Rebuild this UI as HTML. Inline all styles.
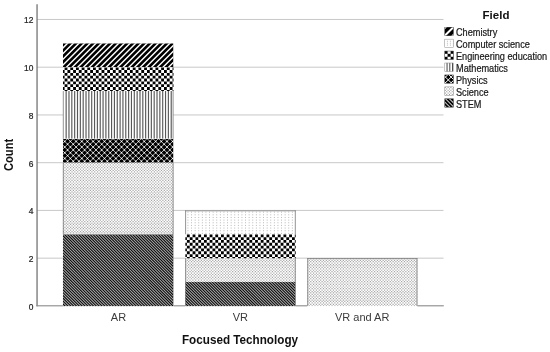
<!DOCTYPE html>
<html><head><meta charset="utf-8"><title>Chart</title>
<style>
html,body{margin:0;padding:0;background:#fff;}
svg{display:block;font-family:"Liberation Sans",Arial,sans-serif;}
</style></head><body>
<svg width="550" height="352" viewBox="0 0 550 352">
<defs><clipPath id="c1"><rect x="62.9" y="234.29" width="110.6" height="71.91"/></clipPath><clipPath id="c2"><rect x="62.9" y="162.68" width="110.6" height="71.61"/></clipPath><clipPath id="c3"><rect x="62.9" y="138.81" width="110.6" height="23.87"/></clipPath><clipPath id="c4"><rect x="62.9" y="91.07" width="110.6" height="47.74"/></clipPath><clipPath id="c5"><rect x="62.9" y="67.2" width="110.6" height="23.87"/></clipPath><clipPath id="c6"><rect x="62.9" y="43.33" width="110.6" height="23.87"/></clipPath><clipPath id="c7"><rect x="185.2" y="282.03" width="110.5" height="24.17"/></clipPath><clipPath id="c8"><rect x="185.2" y="258.16" width="110.5" height="23.87"/></clipPath><clipPath id="c9"><rect x="185.2" y="234.29" width="110.5" height="23.87"/></clipPath><clipPath id="c10"><rect x="185.2" y="210.42" width="110.5" height="23.87"/></clipPath><clipPath id="c11"><rect x="307.3" y="258.16" width="110.1" height="48.04"/></clipPath><clipPath id="c12"><rect x="444.5" y="27" width="9.2" height="8.9"/></clipPath><clipPath id="c13"><rect x="444.5" y="38.92" width="9.2" height="8.9"/></clipPath><clipPath id="c14"><rect x="444.5" y="50.84" width="9.2" height="8.9"/></clipPath><clipPath id="c15"><rect x="444.5" y="62.76" width="9.2" height="8.9"/></clipPath><clipPath id="c16"><rect x="444.5" y="74.68" width="9.2" height="8.9"/></clipPath><clipPath id="c17"><rect x="444.5" y="86.6" width="9.2" height="8.9"/></clipPath><clipPath id="c18"><rect x="444.5" y="98.52" width="9.2" height="8.9"/></clipPath></defs>
<rect width="550" height="352" fill="#fff"/>
<line x1="37" y1="258.16" x2="443.5" y2="258.16" stroke="#c2c2c2" stroke-width="0.9"/>
<line x1="37" y1="210.42" x2="443.5" y2="210.42" stroke="#c2c2c2" stroke-width="0.9"/>
<line x1="37" y1="162.68" x2="443.5" y2="162.68" stroke="#c2c2c2" stroke-width="0.9"/>
<line x1="37" y1="114.94" x2="443.5" y2="114.94" stroke="#c2c2c2" stroke-width="0.9"/>
<line x1="37" y1="67.20" x2="443.5" y2="67.20" stroke="#c2c2c2" stroke-width="0.9"/>
<line x1="37" y1="19.46" x2="443.5" y2="19.46" stroke="#c2c2c2" stroke-width="0.9"/>
<g clip-path="url(#c1)"><rect x="62.9" y="234.29" width="110.6" height="71.91" fill="#000"/><path d="M-14.78 233.29L59.13 307.2M-11.94 233.29L61.97 307.2M-9.1 233.29L64.81 307.2M-6.26 233.29L67.65 307.2M-3.42 233.29L70.49 307.2M-0.58 233.29L73.33 307.2M2.26 233.29L76.17 307.2M5.1 233.29L79.01 307.2M7.94 233.29L81.85 307.2M10.78 233.29L84.69 307.2M13.62 233.29L87.53 307.2M16.46 233.29L90.37 307.2M19.3 233.29L93.21 307.2M22.14 233.29L96.05 307.2M24.98 233.29L98.89 307.2M27.82 233.29L101.73 307.2M30.66 233.29L104.57 307.2M33.5 233.29L107.41 307.2M36.34 233.29L110.25 307.2M39.18 233.29L113.09 307.2M42.02 233.29L115.93 307.2M44.86 233.29L118.77 307.2M47.7 233.29L121.61 307.2M50.54 233.29L124.45 307.2M53.38 233.29L127.29 307.2M56.22 233.29L130.13 307.2M59.06 233.29L132.97 307.2M61.9 233.29L135.81 307.2M64.74 233.29L138.65 307.2M67.58 233.29L141.49 307.2M70.42 233.29L144.33 307.2M73.26 233.29L147.17 307.2M76.1 233.29L150.01 307.2M78.94 233.29L152.85 307.2M81.78 233.29L155.69 307.2M84.62 233.29L158.53 307.2M87.46 233.29L161.37 307.2M90.3 233.29L164.21 307.2M93.14 233.29L167.05 307.2M95.98 233.29L169.89 307.2M98.82 233.29L172.73 307.2M101.66 233.29L175.57 307.2M104.5 233.29L178.41 307.2M107.34 233.29L181.25 307.2M110.18 233.29L184.09 307.2M113.02 233.29L186.93 307.2M115.86 233.29L189.77 307.2M118.7 233.29L192.61 307.2M121.54 233.29L195.45 307.2M124.38 233.29L198.29 307.2M127.22 233.29L201.13 307.2M130.06 233.29L203.97 307.2M132.9 233.29L206.81 307.2M135.74 233.29L209.65 307.2M138.58 233.29L212.49 307.2M141.42 233.29L215.33 307.2M144.26 233.29L218.17 307.2M147.1 233.29L221.01 307.2M149.94 233.29L223.85 307.2M152.78 233.29L226.69 307.2M155.62 233.29L229.53 307.2M158.46 233.29L232.37 307.2M161.3 233.29L235.21 307.2M164.14 233.29L238.05 307.2M166.98 233.29L240.89 307.2M169.82 233.29L243.73 307.2M172.66 233.29L246.57 307.2" stroke="#a8a8a8" stroke-width="1.03" fill="none"/></g>
<g clip-path="url(#c2)"><rect x="62.9" y="162.68" width="110.6" height="71.61" fill="#fff"/><path d="M62.9 163.39H179.18M62.9 166.23H179.18M62.9 169.07H179.18M62.9 171.91H179.18M62.9 174.75H179.18M62.9 177.59H179.18M62.9 180.43H179.18M62.9 183.27H179.18M62.9 186.11H179.18M62.9 188.95H179.18M62.9 191.79H179.18M62.9 194.63H179.18M62.9 197.47H179.18M62.9 200.31H179.18M62.9 203.15H179.18M62.9 205.99H179.18M62.9 208.83H179.18M62.9 211.67H179.18M62.9 214.51H179.18M62.9 217.35H179.18M62.9 220.19H179.18M62.9 223.03H179.18M62.9 225.87H179.18M62.9 228.71H179.18M62.9 231.55H179.18M62.9 234.39H179.18" stroke="#a6a6a6" stroke-width="1.2" stroke-dasharray="1.2 1.64" fill="none"/><path d="M62.9 164.81H179.18M62.9 167.65H179.18M62.9 170.49H179.18M62.9 173.33H179.18M62.9 176.17H179.18M62.9 179.01H179.18M62.9 181.85H179.18M62.9 184.69H179.18M62.9 187.53H179.18M62.9 190.37H179.18M62.9 193.21H179.18M62.9 196.05H179.18M62.9 198.89H179.18M62.9 201.73H179.18M62.9 204.57H179.18M62.9 207.41H179.18M62.9 210.25H179.18M62.9 213.09H179.18M62.9 215.93H179.18M62.9 218.77H179.18M62.9 221.61H179.18M62.9 224.45H179.18M62.9 227.29H179.18M62.9 230.13H179.18M62.9 232.97H179.18" stroke="#a6a6a6" stroke-width="1.2" stroke-dasharray="1.2 1.64" stroke-dashoffset="1.42" fill="none"/></g>
<g clip-path="url(#c3)"><rect x="62.9" y="138.81" width="110.6" height="23.87" fill="#000"/><path d="M31.09 163.68L56.96 137.81M36.77 163.68L62.64 137.81M42.45 163.68L68.32 137.81M48.13 163.68L74 137.81M53.81 163.68L79.68 137.81M59.49 163.68L85.36 137.81M65.17 163.68L91.04 137.81M70.85 163.68L96.72 137.81M76.53 163.68L102.4 137.81M82.21 163.68L108.08 137.81M87.89 163.68L113.76 137.81M93.57 163.68L119.44 137.81M99.25 163.68L125.12 137.81M104.93 163.68L130.8 137.81M110.61 163.68L136.48 137.81M116.29 163.68L142.16 137.81M121.97 163.68L147.84 137.81M127.65 163.68L153.52 137.81M133.33 163.68L159.2 137.81M139.01 163.68L164.88 137.81M144.69 163.68L170.56 137.81M150.37 163.68L176.24 137.81M156.05 163.68L181.92 137.81M161.73 163.68L187.6 137.81M167.41 163.68L193.28 137.81M173.09 163.68L198.96 137.81M27.06 137.81L52.93 163.68M32.74 137.81L58.61 163.68M38.42 137.81L64.29 163.68M44.1 137.81L69.97 163.68M49.78 137.81L75.65 163.68M55.46 137.81L81.33 163.68M61.14 137.81L87.01 163.68M66.82 137.81L92.69 163.68M72.5 137.81L98.37 163.68M78.18 137.81L104.05 163.68M83.86 137.81L109.73 163.68M89.54 137.81L115.41 163.68M95.22 137.81L121.09 163.68M100.9 137.81L126.77 163.68M106.58 137.81L132.45 163.68M112.26 137.81L138.13 163.68M117.94 137.81L143.81 163.68M123.62 137.81L149.49 163.68M129.3 137.81L155.17 163.68M134.98 137.81L160.85 163.68M140.66 137.81L166.53 163.68M146.34 137.81L172.21 163.68M152.02 137.81L177.89 163.68M157.7 137.81L183.57 163.68M163.38 137.81L189.25 163.68M169.06 137.81L194.93 163.68M174.74 137.81L200.61 163.68" stroke="#fff" stroke-width="0.7" fill="none"/><path d="M64.73 141.4h0M67.57 138.56h0M64.73 147.08h0M67.57 144.24h0M70.41 141.4h0M73.25 138.56h0M64.73 152.76h0M67.57 149.92h0M70.41 147.08h0M73.25 144.24h0M76.09 141.4h0M78.93 138.56h0M64.73 158.44h0M67.57 155.6h0M70.41 152.76h0M73.25 149.92h0M76.09 147.08h0M78.93 144.24h0M81.77 141.4h0M84.61 138.56h0M67.57 161.28h0M70.41 158.44h0M73.25 155.6h0M76.09 152.76h0M78.93 149.92h0M81.77 147.08h0M84.61 144.24h0M87.45 141.4h0M90.29 138.56h0M73.25 161.28h0M76.09 158.44h0M78.93 155.6h0M81.77 152.76h0M84.61 149.92h0M87.45 147.08h0M90.29 144.24h0M93.13 141.4h0M95.97 138.56h0M78.93 161.28h0M81.77 158.44h0M84.61 155.6h0M87.45 152.76h0M90.29 149.92h0M93.13 147.08h0M95.97 144.24h0M98.81 141.4h0M101.65 138.56h0M84.61 161.28h0M87.45 158.44h0M90.29 155.6h0M93.13 152.76h0M95.97 149.92h0M98.81 147.08h0M101.65 144.24h0M104.49 141.4h0M107.33 138.56h0M90.29 161.28h0M93.13 158.44h0M95.97 155.6h0M98.81 152.76h0M101.65 149.92h0M104.49 147.08h0M107.33 144.24h0M110.17 141.4h0M113.01 138.56h0M95.97 161.28h0M98.81 158.44h0M101.65 155.6h0M104.49 152.76h0M107.33 149.92h0M110.17 147.08h0M113.01 144.24h0M115.85 141.4h0M118.69 138.56h0M101.65 161.28h0M104.49 158.44h0M107.33 155.6h0M110.17 152.76h0M113.01 149.92h0M115.85 147.08h0M118.69 144.24h0M121.53 141.4h0M124.37 138.56h0M107.33 161.28h0M110.17 158.44h0M113.01 155.6h0M115.85 152.76h0M118.69 149.92h0M121.53 147.08h0M124.37 144.24h0M127.21 141.4h0M130.05 138.56h0M113.01 161.28h0M115.85 158.44h0M118.69 155.6h0M121.53 152.76h0M124.37 149.92h0M127.21 147.08h0M130.05 144.24h0M132.89 141.4h0M135.73 138.56h0M118.69 161.28h0M121.53 158.44h0M124.37 155.6h0M127.21 152.76h0M130.05 149.92h0M132.89 147.08h0M135.73 144.24h0M138.57 141.4h0M141.41 138.56h0M124.37 161.28h0M127.21 158.44h0M130.05 155.6h0M132.89 152.76h0M135.73 149.92h0M138.57 147.08h0M141.41 144.24h0M144.25 141.4h0M147.09 138.56h0M130.05 161.28h0M132.89 158.44h0M135.73 155.6h0M138.57 152.76h0M141.41 149.92h0M144.25 147.08h0M147.09 144.24h0M149.93 141.4h0M152.77 138.56h0M135.73 161.28h0M138.57 158.44h0M141.41 155.6h0M144.25 152.76h0M147.09 149.92h0M149.93 147.08h0M152.77 144.24h0M155.61 141.4h0M158.45 138.56h0M141.41 161.28h0M144.25 158.44h0M147.09 155.6h0M149.93 152.76h0M152.77 149.92h0M155.61 147.08h0M158.45 144.24h0M161.29 141.4h0M164.13 138.56h0M147.09 161.28h0M149.93 158.44h0M152.77 155.6h0M155.61 152.76h0M158.45 149.92h0M161.29 147.08h0M164.13 144.24h0M166.97 141.4h0M169.81 138.56h0M152.77 161.28h0M155.61 158.44h0M158.45 155.6h0M161.29 152.76h0M164.13 149.92h0M166.97 147.08h0M169.81 144.24h0M172.65 141.4h0M158.45 161.28h0M161.29 158.44h0M164.13 155.6h0M166.97 152.76h0M169.81 149.92h0M172.65 147.08h0M164.13 161.28h0M166.97 158.44h0M169.81 155.6h0M172.65 152.76h0M169.81 161.28h0M172.65 158.44h0" stroke="#fff" stroke-width="1.45" stroke-linecap="round" fill="none"/></g>
<g clip-path="url(#c4)"><rect x="62.9" y="91.07" width="110.6" height="47.74" fill="#fff"/><path d="M66.14 91.07V138.81M68.98 91.07V138.81M71.82 91.07V138.81M74.66 91.07V138.81M77.5 91.07V138.81M80.34 91.07V138.81M83.18 91.07V138.81M86.02 91.07V138.81M88.86 91.07V138.81M91.7 91.07V138.81M94.54 91.07V138.81M97.38 91.07V138.81M100.22 91.07V138.81M103.06 91.07V138.81M105.9 91.07V138.81M108.74 91.07V138.81M111.58 91.07V138.81M114.42 91.07V138.81M117.26 91.07V138.81M120.1 91.07V138.81M122.94 91.07V138.81M125.78 91.07V138.81M128.62 91.07V138.81M131.46 91.07V138.81M134.3 91.07V138.81M137.14 91.07V138.81M139.98 91.07V138.81M142.82 91.07V138.81M145.66 91.07V138.81M148.5 91.07V138.81M151.34 91.07V138.81M154.18 91.07V138.81M157.02 91.07V138.81M159.86 91.07V138.81M162.7 91.07V138.81M165.54 91.07V138.81M168.38 91.07V138.81M171.22 91.07V138.81" stroke="#585858" stroke-width="1.15" fill="none"/></g>
<g clip-path="url(#c5)"><rect x="62.9" y="67.2" width="110.6" height="23.87" fill="#fff"/><path d="M62.9 68.62H179.18M62.9 74.3H179.18M62.9 79.98H179.18M62.9 85.66H179.18M62.9 91.34H179.18" stroke="#000" stroke-width="2.84" stroke-dasharray="2.84 2.84" stroke-dashoffset="3.98" fill="none"/><path d="M62.9 71.46H179.18M62.9 77.14H179.18M62.9 82.82H179.18M62.9 88.5H179.18" stroke="#000" stroke-width="2.84" stroke-dasharray="2.84 2.84" stroke-dashoffset="1.14" fill="none"/></g>
<g clip-path="url(#c6)"><rect x="62.9" y="43.33" width="110.6" height="23.87" fill="#000"/><path d="M31.32 68.2L57.19 42.33M37 68.2L62.87 42.33M42.68 68.2L68.55 42.33M48.36 68.2L74.23 42.33M54.04 68.2L79.91 42.33M59.72 68.2L85.59 42.33M65.4 68.2L91.27 42.33M71.08 68.2L96.95 42.33M76.76 68.2L102.63 42.33M82.44 68.2L108.31 42.33M88.12 68.2L113.99 42.33M93.8 68.2L119.67 42.33M99.48 68.2L125.35 42.33M105.16 68.2L131.03 42.33M110.84 68.2L136.71 42.33M116.52 68.2L142.39 42.33M122.2 68.2L148.07 42.33M127.88 68.2L153.75 42.33M133.56 68.2L159.43 42.33M139.24 68.2L165.11 42.33M144.92 68.2L170.79 42.33M150.6 68.2L176.47 42.33M156.28 68.2L182.15 42.33M161.96 68.2L187.83 42.33M167.64 68.2L193.51 42.33M173.32 68.2L199.19 42.33" stroke="#fff" stroke-width="1.45" fill="none"/></g>
<path d="M63.30 162.68V234.29M173.10 162.68V234.29M63.30 91.07V138.81M173.10 91.07V138.81" fill="none" stroke="#777" stroke-width="0.8"/>
<g clip-path="url(#c7)"><rect x="185.2" y="282.03" width="110.5" height="24.17" fill="#000"/><path d="M155.8 281.03L181.97 307.2M158.64 281.03L184.81 307.2M161.48 281.03L187.65 307.2M164.32 281.03L190.49 307.2M167.16 281.03L193.33 307.2M170 281.03L196.17 307.2M172.84 281.03L199.01 307.2M175.68 281.03L201.85 307.2M178.52 281.03L204.69 307.2M181.36 281.03L207.53 307.2M184.2 281.03L210.37 307.2M187.04 281.03L213.21 307.2M189.88 281.03L216.05 307.2M192.72 281.03L218.89 307.2M195.56 281.03L221.73 307.2M198.4 281.03L224.57 307.2M201.24 281.03L227.41 307.2M204.08 281.03L230.25 307.2M206.92 281.03L233.09 307.2M209.76 281.03L235.93 307.2M212.6 281.03L238.77 307.2M215.44 281.03L241.61 307.2M218.28 281.03L244.45 307.2M221.12 281.03L247.29 307.2M223.96 281.03L250.13 307.2M226.8 281.03L252.97 307.2M229.64 281.03L255.81 307.2M232.48 281.03L258.65 307.2M235.32 281.03L261.49 307.2M238.16 281.03L264.33 307.2M241 281.03L267.17 307.2M243.84 281.03L270.01 307.2M246.68 281.03L272.85 307.2M249.52 281.03L275.69 307.2M252.36 281.03L278.53 307.2M255.2 281.03L281.37 307.2M258.04 281.03L284.21 307.2M260.88 281.03L287.05 307.2M263.72 281.03L289.89 307.2M266.56 281.03L292.73 307.2M269.4 281.03L295.57 307.2M272.24 281.03L298.41 307.2M275.08 281.03L301.25 307.2M277.92 281.03L304.09 307.2M280.76 281.03L306.93 307.2M283.6 281.03L309.77 307.2M286.44 281.03L312.61 307.2M289.28 281.03L315.45 307.2M292.12 281.03L318.29 307.2M294.96 281.03L321.13 307.2" stroke="#a8a8a8" stroke-width="1.03" fill="none"/></g>
<g clip-path="url(#c8)"><rect x="185.2" y="258.16" width="110.5" height="23.87" fill="#fff"/><path d="M185.2 258.87H301.38M185.2 261.71H301.38M185.2 264.55H301.38M185.2 267.39H301.38M185.2 270.23H301.38M185.2 273.07H301.38M185.2 275.91H301.38M185.2 278.75H301.38M185.2 281.59H301.38" stroke="#a6a6a6" stroke-width="1.2" stroke-dasharray="1.2 1.64" fill="none"/><path d="M185.2 260.29H301.38M185.2 263.13H301.38M185.2 265.97H301.38M185.2 268.81H301.38M185.2 271.65H301.38M185.2 274.49H301.38M185.2 277.33H301.38M185.2 280.17H301.38" stroke="#a6a6a6" stroke-width="1.2" stroke-dasharray="1.2 1.64" stroke-dashoffset="1.42" fill="none"/></g>
<g clip-path="url(#c9)"><rect x="185.2" y="234.29" width="110.5" height="23.87" fill="#fff"/><path d="M185.2 235.71H301.38M185.2 241.39H301.38M185.2 247.07H301.38M185.2 252.75H301.38M185.2 258.43H301.38" stroke="#000" stroke-width="2.84" stroke-dasharray="2.84 2.84" stroke-dashoffset="3.98" fill="none"/><path d="M185.2 238.55H301.38M185.2 244.23H301.38M185.2 249.91H301.38M185.2 255.59H301.38" stroke="#000" stroke-width="2.84" stroke-dasharray="2.84 2.84" stroke-dashoffset="1.14" fill="none"/></g>
<g clip-path="url(#c10)"><rect x="185.2" y="210.42" width="110.5" height="23.87" fill="#fff"/><path d="M185.2 212.17H295.7M185.2 214.82H295.7M185.2 217.47H295.7M185.2 220.12H295.7M185.2 222.77H295.7M185.2 225.42H295.7M185.2 228.07H295.7M185.2 230.72H295.7M185.2 233.37H295.7" stroke="#aaa" stroke-width="0.9" stroke-dasharray="0.9 2.7" stroke-dashoffset="-2.3" fill="none"/></g>
<path d="M185.60 258.16V282.03M295.30 258.16V282.03M185.60 210.42V234.29M295.30 210.42V234.29M185.20 210.82H295.70" fill="none" stroke="#777" stroke-width="0.8"/>
<g clip-path="url(#c11)"><rect x="307.3" y="258.16" width="110.1" height="48.04" fill="#fff"/><path d="M307.3 258.87H423.08M307.3 261.71H423.08M307.3 264.55H423.08M307.3 267.39H423.08M307.3 270.23H423.08M307.3 273.07H423.08M307.3 275.91H423.08M307.3 278.75H423.08M307.3 281.59H423.08M307.3 284.43H423.08M307.3 287.27H423.08M307.3 290.11H423.08M307.3 292.95H423.08M307.3 295.79H423.08M307.3 298.63H423.08M307.3 301.47H423.08M307.3 304.31H423.08" stroke="#a6a6a6" stroke-width="1.2" stroke-dasharray="1.2 1.64" fill="none"/><path d="M307.3 260.29H423.08M307.3 263.13H423.08M307.3 265.97H423.08M307.3 268.81H423.08M307.3 271.65H423.08M307.3 274.49H423.08M307.3 277.33H423.08M307.3 280.17H423.08M307.3 283.01H423.08M307.3 285.85H423.08M307.3 288.69H423.08M307.3 291.53H423.08M307.3 294.37H423.08M307.3 297.21H423.08M307.3 300.05H423.08M307.3 302.89H423.08M307.3 305.73H423.08" stroke="#a6a6a6" stroke-width="1.2" stroke-dasharray="1.2 1.64" stroke-dashoffset="1.42" fill="none"/></g>
<path d="M307.70 258.16V305.90M417.00 258.16V305.90M307.30 258.56H417.40" fill="none" stroke="#777" stroke-width="0.8"/>
<line x1="37.05" y1="4.3" x2="37.05" y2="306.34999999999997" stroke="#747474" stroke-width="1.3"/>
<line x1="36.4" y1="305.79999999999995" x2="62.9" y2="305.79999999999995" stroke="#8a8a8a" stroke-width="1.1"/>
<line x1="173.5" y1="305.79999999999995" x2="185.2" y2="305.79999999999995" stroke="#8a8a8a" stroke-width="1.1"/>
<line x1="295.7" y1="305.79999999999995" x2="307.3" y2="305.79999999999995" stroke="#8a8a8a" stroke-width="1.1"/>
<line x1="417.4" y1="305.79999999999995" x2="443.8" y2="305.79999999999995" stroke="#8a8a8a" stroke-width="1.1"/>
<text x="33.3" y="309.90" font-size="8.4" text-anchor="end" fill="#222" stroke="#222" stroke-width="0.22">0</text>
<text x="33.3" y="262.16" font-size="8.4" text-anchor="end" fill="#222" stroke="#222" stroke-width="0.22">2</text>
<text x="33.3" y="214.42" font-size="8.4" text-anchor="end" fill="#222" stroke="#222" stroke-width="0.22">4</text>
<text x="33.3" y="166.68" font-size="8.4" text-anchor="end" fill="#222" stroke="#222" stroke-width="0.22">6</text>
<text x="33.3" y="118.94" font-size="8.4" text-anchor="end" fill="#222" stroke="#222" stroke-width="0.22">8</text>
<text x="33.3" y="71.20" font-size="8.4" text-anchor="end" fill="#222" stroke="#222" stroke-width="0.22">10</text>
<text x="33.3" y="23.46" font-size="8.4" text-anchor="end" fill="#222" stroke="#222" stroke-width="0.22">12</text>
<text x="118.5" y="321" font-size="11" text-anchor="middle" fill="#3a3a3a">AR</text>
<text x="240.3" y="321" font-size="11" text-anchor="middle" fill="#3a3a3a">VR</text>
<text x="362.2" y="321" font-size="11" text-anchor="middle" fill="#3a3a3a">VR and AR</text>
<text transform="translate(240 344.3) scale(0.96 1)" font-size="12.2" font-weight="bold" text-anchor="middle" fill="#111">Focused Technology</text>
<text transform="translate(13.1 154.9) rotate(-90) scale(0.915 1)" font-size="12.2" font-weight="bold" text-anchor="middle" fill="#111">Count</text>
<text x="496" y="18.9" font-size="11.5" font-weight="bold" text-anchor="middle" fill="#111">Field</text>
<g clip-path="url(#c12)"><rect x="444.5" y="27" width="9.2" height="8.9" fill="#000"/><path d="M419.95 36.9L430.85 26M427.85 36.9L438.75 26M435.75 36.9L446.65 26M443.65 36.9L454.55 26M451.55 36.9L462.45 26M459.45 36.9L470.35 26" stroke="#fff" stroke-width="2.05" fill="none"/></g><rect x="444.75" y="27.25" width="8.7" height="8.4" fill="none" stroke="#555" stroke-width="0.5"/>
<text transform="translate(456 36.20) scale(0.9 1)" font-size="10.2" fill="#1a1a1a" stroke="#1a1a1a" stroke-width="0.22">Chemistry</text>
<g clip-path="url(#c13)"><rect x="444.5" y="38.92" width="9.2" height="8.9" fill="#fff"/><path d="M444.5 41.22H453.7M444.5 43.22H453.7M444.5 45.12H453.7" stroke="#b8b8b8" stroke-width="1" stroke-dasharray="1 2" stroke-dashoffset="-2.4" fill="none"/></g><rect x="444.75" y="39.17" width="8.7" height="8.4" fill="none" stroke="#8c8c8c" stroke-width="0.5"/>
<text transform="translate(456 48.12) scale(0.9 1)" font-size="10.2" fill="#1a1a1a" stroke="#1a1a1a" stroke-width="0.22">Computer science</text>
<g clip-path="url(#c14)"><rect x="444.5" y="50.84" width="9.2" height="8.9" fill="#000"/><rect x="447.57" y="50.84" width="3.07" height="2.97" fill="#fff"/><rect x="444.5" y="53.81" width="3.07" height="2.97" fill="#fff"/><rect x="450.63" y="53.81" width="3.07" height="2.97" fill="#fff"/><rect x="447.57" y="56.77" width="3.07" height="2.97" fill="#fff"/></g><rect x="444.75" y="51.09" width="8.7" height="8.4" fill="none" stroke="#555" stroke-width="0.5"/>
<text transform="translate(456 60.04) scale(0.9 1)" font-size="10.2" fill="#1a1a1a" stroke="#1a1a1a" stroke-width="0.22">Engineering education</text>
<g clip-path="url(#c15)"><rect x="444.5" y="62.76" width="9.2" height="8.9" fill="#fff"/><path d="M447.05 62.76V71.66M449.8 62.76V71.66M452.55 62.76V71.66" stroke="#3c3c3c" stroke-width="0.95" fill="none"/></g><rect x="444.75" y="63.01" width="8.7" height="8.4" fill="none" stroke="#8c8c8c" stroke-width="0.5"/>
<text transform="translate(456 71.96) scale(0.9 1)" font-size="10.2" fill="#1a1a1a" stroke="#1a1a1a" stroke-width="0.22">Mathematics</text>
<g clip-path="url(#c16)"><rect x="444.5" y="74.68" width="9.2" height="8.9" fill="#000"/><path d="M426.67 84.58L437.57 73.68M432.33 84.58L443.23 73.68M437.99 84.58L448.89 73.68M443.65 84.58L454.55 73.68M449.31 84.58L460.21 73.68M454.97 84.58L465.87 73.68M425.07 73.68L435.97 84.58M430.73 73.68L441.63 84.58M436.39 73.68L447.29 84.58M442.05 73.68L452.95 84.58M447.71 73.68L458.61 84.58M453.37 73.68L464.27 84.58" stroke="#fff" stroke-width="1.0" fill="none"/></g><rect x="444.75" y="74.93" width="8.7" height="8.4" fill="none" stroke="#555" stroke-width="0.5"/>
<text transform="translate(456 83.88) scale(0.9 1)" font-size="10.2" fill="#1a1a1a" stroke="#1a1a1a" stroke-width="0.22">Physics</text>
<g clip-path="url(#c17)"><rect x="444.5" y="86.6" width="9.2" height="8.9" fill="#fff"/><path d="M444.9 87.59H456.7M444.9 90.34H456.7M444.9 93.09H456.7M444.9 95.84H456.7" stroke="#888" stroke-width="0.95" stroke-dasharray="0.95 1.8" fill="none"/><path d="M444.9 88.96H456.7M444.9 91.71H456.7M444.9 94.46H456.7" stroke="#888" stroke-width="0.95" stroke-dasharray="0.95 1.8" stroke-dashoffset="1.375" fill="none"/></g><rect x="444.75" y="86.85" width="8.7" height="8.4" fill="none" stroke="#8c8c8c" stroke-width="0.5"/>
<text transform="translate(456 95.80) scale(0.9 1)" font-size="10.2" fill="#1a1a1a" stroke="#1a1a1a" stroke-width="0.22">Science</text>
<g clip-path="url(#c18)"><rect x="444.5" y="98.52" width="9.2" height="8.9" fill="#000"/><path d="M428.65 97.52L439.55 108.42M432.55 97.52L443.45 108.42M436.45 97.52L447.35 108.42M440.35 97.52L451.25 108.42M444.25 97.52L455.15 108.42M448.15 97.52L459.05 108.42M452.05 97.52L462.95 108.42M455.95 97.52L466.85 108.42" stroke="#c0c0c0" stroke-width="1.1" fill="none"/></g><rect x="444.75" y="98.77" width="8.7" height="8.4" fill="none" stroke="#555" stroke-width="0.5"/>
<text transform="translate(456 107.72) scale(0.9 1)" font-size="10.2" fill="#1a1a1a" stroke="#1a1a1a" stroke-width="0.22">STEM</text>
</svg>
</body></html>
